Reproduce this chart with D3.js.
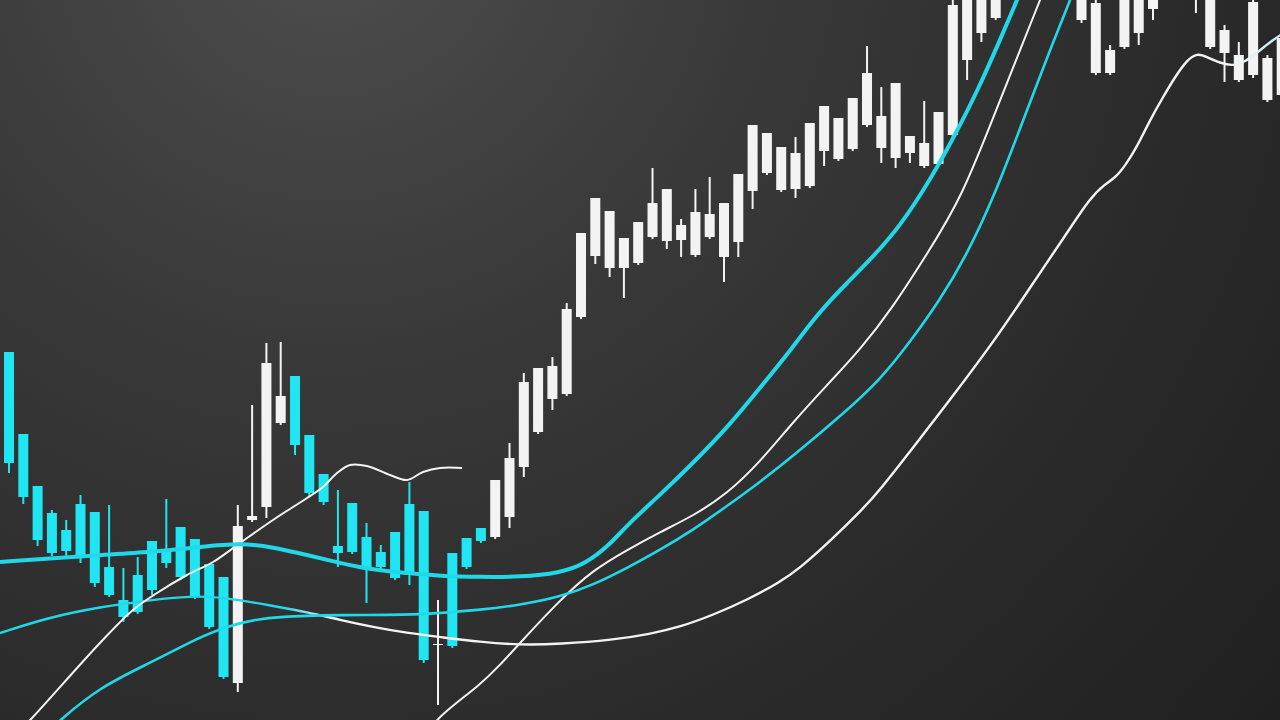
<!DOCTYPE html>
<html>
<head>
<meta charset="utf-8">
<script src="https://cdn.jsdelivr.net/npm/d3@7"></script>
<style>
html,body{margin:0;padding:0;background:#2a2a2a;overflow:hidden;}
svg{display:block;}
</style>
</head>
<body>
<svg id="chart" width="1280" height="720"></svg>
<script>
// ---- candle data (index = session, values in price points) ----
const opens  = [368,286,234,207,190,216,208,153,120,145,179,170,193,181,156,143,37,200,213,297,344,285,246,174,217,183,168,188,216,209,75,167,182,192,183,203,253,288,321,326,403,464,452,452,457,483,479,480,465,483,463,478,529,547,530,531,534,569,561,571,595,572,562,567,554,556,585,660,687,702,735,760,740,750,730,700,647,647,673,687,711,740,745,725,673,667,640,645,620,625];
const closes = [257,223,180,167,169,165,137,125,103,108,130,157,143,123,93,43,194,204,357,324,275,227,218,167,168,153,153,142,145,60,76,74,153,179,240,262,338,352,354,411,487,522,509,482,498,517,531,495,508,506,517,546,595,587,573,567,597,614,602,622,647,604,637,584,577,608,715,760,750,770,810,820,830,815,790,760,717,670,740,750,760,800,810,780,740,690,665,718,662,682];
const highs  = [368,286,234,210,200,225,208,215,152,163,179,221,193,181,156,143,215,315,377,378,344,285,246,230,217,197,175,188,238,209,120,167,182,192,240,277,347,352,363,417,487,522,509,482,498,552,531,501,531,543,517,546,595,587,573,583,597,614,602,622,674,633,637,584,619,608,740,780,770,790,830,835,850,830,800,770,730,675,750,760,770,810,820,790,750,695,678,725,665,690];
const lows   = [247,216,174,164,164,157,133,123,98,106,125,152,140,121,91,41,28,198,202,295,265,224,215,153,166,117,150,140,135,57,15,72,151,177,181,192,243,286,310,324,401,456,443,422,455,481,471,463,463,481,438,463,511,545,528,522,532,554,559,569,593,557,552,557,552,554,583,640,678,700,730,750,735,742,725,697,645,645,671,675,700,735,740,707,671,638,638,642,618,622];

// ---- moving-average style lines: [session index, value] ----
const maFast = [[-0.63,158],[6.36,165],[9.86,168],[13.36,173],[16.15,177],[18.46,173],[20.84,165],[23.15,157],[25.45,150],[27.83,147],[30.14,144],[32.94,143],[35.73,143],[38.53,147],[40.3,156],[42.0,175],[43.22,195],[45.52,225],[47.83,257],[50.21,292],[52.52,332],[54.83,373],[56.01,396],[57.20,416],[58.46,435],[60.00,457],[62.31,493],[64.62,545],[66.15,585],[67.69,628],[69.30,680],[70.35,715],[71.05,740]];
const maMid = [[2.52,-15],[3.57,0],[6.36,33],[9.86,57],[13.36,83],[15.10,93],[17.55,102],[20.35,104],[23.15,105],[27.83,105],[30.14,107],[32.94,110],[35.73,115],[38.53,123],[40.84,135],[43.22,152],[45.52,170],[47.83,190],[50.21,214],[52.52,238],[54.83,264],[58.32,306],[60.91,340],[63.01,378],[65.10,420],[66.85,462],[68.81,520],[71.40,618],[72.80,670],[74.20,720],[74.90,745]];
const maSteep = [[29.09,-15],[30.14,5],[32.94,35],[34.34,55],[35.73,77],[38.53,120],[40.84,150],[43.22,170],[45.52,188],[47.83,204],[50.21,226],[52.52,258],[54.83,298],[57.20,335],[59.51,370],[61.82,413],[64.06,463],[66.64,522],[69.30,620],[72.10,720],[72.80,745]];
const maSlow = [[-0.63,87],[2.87,103],[6.36,113],[9.86,120],[13.36,125],[16.15,120],[18.46,114],[20.84,108],[23.15,100],[25.45,93],[27.83,87],[30.14,83],[32.94,78],[35.73,75],[38.53,76],[42.24,80],[44.83,86],[46.92,93],[49.23,105],[51.61,120],[53.92,138],[55.31,152],[57.20,176],[59.51,208],[60.91,230],[63.36,275],[65.80,320],[69.30,387],[71.61,437],[73.99,487],[75.59,522],[76.64,536],[77.34,542],[78.04,554],[78.88,573],[79.79,600],[80.70,623],[81.54,643],[82.38,660],[83.08,667],[83.78,663],[84.69,657],[85.59,654],[86.43,658],[87.34,668],[88.18,678],[89.23,688]];
const bandUpper = [[0.77,-10],[1.61,2],[6.36,77],[8.67,110],[10.35,127],[12.45,145],[14.27,158],[16.15,177],[18.46,200],[20.84,222],[21.96,233],[22.94,247],[23.85,255],[25.03,254],[26.64,245],[27.83,240],[28.95,248],[30.14,252],[31.68,252]];

const W = 1280, H = 720;
const CYAN = "#1fe6f2", CYAN_LINE = "#20d8e8", WHITE = "#f3f3f3";

const svg = d3.select("#chart");
const defs = svg.append("defs");

// background
const bg = defs.append("radialGradient").attr("id","bg")
  .attr("gradientUnits","userSpaceOnUse").attr("cx",330).attr("cy",-80).attr("r",1250);
bg.append("stop").attr("offset",0).attr("stop-color","#4e4e4e");
bg.append("stop").attr("offset",0.35).attr("stop-color","#393939");
bg.append("stop").attr("offset",0.7).attr("stop-color","#2a2a2a");
bg.append("stop").attr("offset",1).attr("stop-color","#202020");
svg.append("rect").attr("width",W).attr("height",H).attr("fill","url(#bg)");

const x = d3.scaleLinear().domain([-0.63, 88.88]).range([0, W]);
const y = d3.scaleLinear().domain([0, 720]).range([H, 0]);

// slow line gradient: cyan on the left fading to white
const gs = defs.append("linearGradient").attr("id","slowGrad")
  .attr("gradientUnits","userSpaceOnUse").attr("x1",0).attr("x2",W).attr("y1",0).attr("y2",0);
gs.append("stop").attr("offset", 285/W).attr("stop-color", CYAN_LINE);
gs.append("stop").attr("offset", 330/W).attr("stop-color", WHITE);
gs.append("stop").attr("offset", 1235/W).attr("stop-color", WHITE);
gs.append("stop").attr("offset", 1).attr("stop-color", "#b8f2f2");

const smooth = d3.line().x(d => x(d[0])).y(d => y(d[1])).curve(d3.curveBasis);
const line = d3.line().x(d => x(d[0])).y(d => y(d[1])).curve(d3.curveCatmullRom.alpha(0.5));

const candleG = svg.append("g");

// candles
const candles = opens.map((o,i) => ({i, o, c: closes[i], h: highs[i], l: lows[i]}));
const bw = 10;
const cg = candleG.selectAll("g.c").data(candles).join("g").attr("class","c");
cg.append("rect")
  .attr("x", d => x(d.i) - 1)
  .attr("width", 2)
  .attr("y", d => y(d.h))
  .attr("height", d => Math.max(1, y(d.l) - y(d.h)))
  .attr("fill", d => d.c >= d.o ? WHITE : CYAN);
cg.append("rect")
  .attr("x", d => x(d.i) - bw/2)
  .attr("width", bw)
  .attr("y", d => y(Math.max(d.o, d.c)))
  .attr("height", d => Math.max(1, Math.abs(y(d.o) - y(d.c))))
  .attr("fill", d => d.c >= d.o ? WHITE : CYAN);

// lines
const topLines = svg.append("g");
topLines.append("path").datum(maSlow).attr("d", smooth).attr("fill","none")
  .attr("stroke","url(#slowGrad)").attr("stroke-width",2.4);
topLines.append("path").datum(maSteep).attr("d", smooth).attr("fill","none")
  .attr("stroke",WHITE).attr("stroke-width",2);
topLines.append("path").datum(maMid).attr("d", smooth).attr("fill","none")
  .attr("stroke",CYAN_LINE).attr("stroke-width",2.6);
topLines.append("path").datum(bandUpper).attr("d", line).attr("fill","none")
  .attr("stroke",WHITE).attr("stroke-width",2);
topLines.append("path").datum(maFast).attr("d", smooth).attr("fill","none")
  .attr("stroke",CYAN_LINE).attr("stroke-width",4);
</script>
</body>
</html>
